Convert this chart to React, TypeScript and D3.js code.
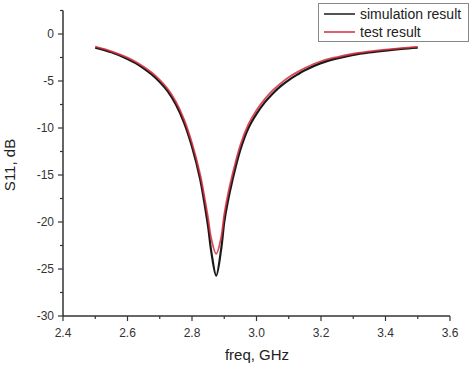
import React from "react";
import * as d3 from "d3";

const freqs = [2.5, 2.55, 2.6, 2.625, 2.65, 2.675, 2.7, 2.725, 2.75, 2.775, 2.8, 2.825, 2.84, 2.85, 2.86, 2.875, 2.89, 2.9, 2.91, 2.925, 2.95, 2.975, 3.0, 3.025, 3.05, 3.075, 3.1, 3.125, 3.15, 3.2, 3.25, 3.3, 3.35, 3.4, 3.45, 3.5];
const simulation = [-1.45, -1.95, -2.65, -3.1, -3.65, -4.3, -5.1, -6.1, -7.5, -9.4, -12.0, -15.4, -18.3, -20.5, -23.2, -25.7, -23.0, -20.0, -18.0, -15.6, -12.3, -10.0, -8.5, -7.3, -6.35, -5.55, -4.9, -4.35, -3.85, -3.1, -2.6, -2.22, -1.96, -1.76, -1.59, -1.46];
const test = [-1.35, -1.85, -2.52, -2.95, -3.48, -4.1, -4.88, -5.85, -7.2, -9.05, -11.6, -14.9, -17.6, -19.6, -21.8, -23.4, -21.7, -19.2, -17.3, -15.0, -11.8, -9.6, -8.1, -6.95, -6.0, -5.25, -4.6, -4.08, -3.62, -2.9, -2.45, -2.1, -1.85, -1.66, -1.5, -1.38];

const xMajor = [2.4, 2.6, 2.8, 3.0, 3.2, 3.4, 3.6];
const xMinor = [2.5, 2.7, 2.9, 3.1, 3.3, 3.5];
const yMajor = [0, -5, -10, -15, -20, -25, -30];
const yMinor = [2.5, -2.5, -7.5, -12.5, -17.5, -22.5, -27.5];
const seriesNames = ["simulation result", "test result"];
const seriesColors = ["#1a1a1a", "#d42a3c"];

export default function App() {
  const W = 474, H = 368;
  const x = d3.scaleLinear().domain([2.4, 3.6]).range([63, 450]);
  const y = d3.scaleLinear().domain([-30, 2.5]).range([316, 10.5]);
  const line = d3
    .line<number>()
    .x((_, i) => x(freqs[i]))
    .y((d) => y(d))
    .curve(d3.curveCatmullRom.alpha(0.5));
  const axisColor = "#333";
  const font = "'Liberation Sans', Arial, sans-serif";
  return (
    <svg width={W} height={H} style={{ position: "absolute", left: 0, top: 0, background: "#fff" }} fontFamily={font}>
      <rect width={W} height={H} fill="#fff" />
      <line x1={x(2.4)} x2={x(3.6)} y1={y(-30)} y2={y(-30)} stroke={axisColor} strokeWidth={1.5} />
      <line x1={x(2.4)} x2={x(2.4)} y1={y(-30)} y2={y(2.5)} stroke={axisColor} strokeWidth={1.5} />
      {xMajor.map((t) => (
        <g key={"xm" + t}>
          <line x1={x(t)} x2={x(t)} y1={y(-30)} y2={y(-30) + 5} stroke={axisColor} strokeWidth={1.2} />
          <text x={x(t)} y={337} textAnchor="middle" fontSize={12} fill="#333">
            {t.toFixed(1)}
          </text>
        </g>
      ))}
      {xMinor.map((t) => (
        <line key={"xn" + t} x1={x(t)} x2={x(t)} y1={y(-30)} y2={y(-30) + 3} stroke={axisColor} strokeWidth={1.2} />
      ))}
      {yMajor.map((t) => (
        <g key={"ym" + t}>
          <line x1={x(2.4) - 5} x2={x(2.4)} y1={y(t)} y2={y(t)} stroke={axisColor} strokeWidth={1.2} />
          <text x={54} y={y(t) + 4} textAnchor="end" fontSize={12} fill="#333">
            {t}
          </text>
        </g>
      ))}
      {yMinor.map((t) => (
        <line key={"yn" + t} x1={x(2.4) - 3} x2={x(2.4)} y1={y(t)} y2={y(t)} stroke={axisColor} strokeWidth={1.2} />
      ))}
      <text x={257} y={360} textAnchor="middle" fontSize={15} fill="#222">
        freq, GHz
      </text>
      <text transform={`translate(15,165) rotate(-90)`} textAnchor="middle" fontSize={15} fill="#222">
        S11, dB
      </text>
      <path d={line(simulation) || ""} fill="none" stroke={seriesColors[0]} strokeWidth={2.2} strokeLinejoin="round" />
      <path d={line(test) || ""} fill="none" stroke={seriesColors[1]} strokeWidth={1.8} opacity={0.85} strokeLinejoin="round" />
      <rect x={318.5} y={3.5} width={150} height={38} fill="#fff" stroke="#888" strokeWidth={1} />
      {seriesNames.map((n, i) => (
        <g key={n}>
          <line x1={324} x2={355} y1={14 + i * 18} y2={14 + i * 18} stroke={seriesColors[i]} strokeWidth={1.5} />
          <text x={360} y={19 + i * 18} fontSize={14} fill="#222">
            {n}
          </text>
        </g>
      ))}
    </svg>
  );
}
